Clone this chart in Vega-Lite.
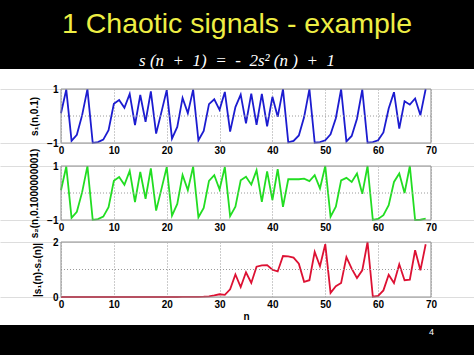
{
  "$schema": "https://vega.github.io/schema/vega-lite/v6.json",
  "background": "white",
  "padding": 0,
  "spacing": 0,
  "bounds": "flush",
  "datasets": {
    "sig": [
      {"n":0,"s1":0.1,"s2":0.1,"d":0},
      {"n":1,"s1":0.98,"s2":0.98,"d":0},
      {"n":2,"s1":-0.921,"s2":-0.921,"d":0},
      {"n":3,"s1":-0.696,"s2":-0.696,"d":0},
      {"n":4,"s1":0.032,"s2":0.032,"d":0},
      {"n":5,"s1":0.998,"s2":0.998,"d":0},
      {"n":6,"s1":-0.992,"s2":-0.992,"d":0},
      {"n":7,"s1":-0.968,"s2":-0.968,"d":0},
      {"n":8,"s1":-0.873,"s2":-0.873,"d":0},
      {"n":9,"s1":-0.523,"s2":-0.523,"d":0},
      {"n":10,"s1":0.453,"s2":0.453,"d":0},
      {"n":11,"s1":0.59,"s2":0.59,"d":0},
      {"n":12,"s1":0.303,"s2":0.303,"d":0},
      {"n":13,"s1":0.816,"s2":0.816,"d":0},
      {"n":14,"s1":-0.333,"s2":-0.333,"d":0},
      {"n":15,"s1":0.779,"s2":0.779,"d":0},
      {"n":16,"s1":-0.213,"s2":-0.213,"d":0},
      {"n":17,"s1":0.91,"s2":0.91,"d":0},
      {"n":18,"s1":-0.654,"s2":-0.654,"d":0},
      {"n":19,"s1":0.143,"s2":0.143,"d":0},
      {"n":20,"s1":0.959,"s2":0.959,"d":0},
      {"n":21,"s1":-0.839,"s2":-0.839,"d":0},
      {"n":22,"s1":-0.407,"s2":-0.407,"d":0},
      {"n":23,"s1":0.669,"s2":0.669,"d":0.001},
      {"n":24,"s1":0.105,"s2":0.105,"d":0.002},
      {"n":25,"s1":0.978,"s2":0.978,"d":0.003},
      {"n":26,"s1":-0.9,"s2":-0.9,"d":0.006},
      {"n":27,"s1":-0.55,"s2":-0.55,"d":0.012},
      {"n":28,"s1":0.44,"s2":0.45,"d":0.025},
      {"n":29,"s1":0.62,"s2":0.66,"d":0.06},
      {"n":30,"s1":0.23,"s2":0.13,"d":0.1},
      {"n":31,"s1":0.89,"s2":0.96,"d":0.08},
      {"n":32,"s1":-0.58,"s2":-0.86,"d":0.28},
      {"n":33,"s1":0.33,"s2":-0.51,"d":0.82},
      {"n":34,"s1":0.79,"s2":0.47,"d":0.36},
      {"n":35,"s1":-0.27,"s2":0.6,"d":0.9},
      {"n":36,"s1":0.83,"s2":0.31,"d":0.51},
      {"n":37,"s1":-0.33,"s2":0.84,"d":1.1},
      {"n":38,"s1":0.82,"s2":-0.33,"d":1.15},
      {"n":39,"s1":-0.38,"s2":0.8,"d":1.16},
      {"n":40,"s1":0.71,"s2":-0.26,"d":0.99},
      {"n":41,"s1":-0.03,"s2":0.88,"d":0.93},
      {"n":42,"s1":0.997,"s2":-0.51,"d":1.49},
      {"n":43,"s1":-0.98,"s2":0.51,"d":1.48},
      {"n":44,"s1":-0.925,"s2":0.51,"d":1.43},
      {"n":45,"s1":-0.72,"s2":0.51,"d":1.21},
      {"n":46,"s1":-0.04,"s2":0.53,"d":0.55},
      {"n":47,"s1":0.995,"s2":0.44,"d":0.61},
      {"n":48,"s1":-0.99,"s2":0.66,"d":1.64},
      {"n":49,"s1":-0.97,"s2":0.17,"d":1.12},
      {"n":50,"s1":-0.9,"s2":1.0,"d":1.92},
      {"n":51,"s1":-0.68,"s2":-0.88,"d":0.15},
      {"n":52,"s1":-0.08,"s2":-0.51,"d":0.39},
      {"n":53,"s1":0.99,"s2":0.47,"d":0.51},
      {"n":54,"s1":-0.94,"s2":0.56,"d":1.45},
      {"n":55,"s1":-0.74,"s2":0.41,"d":1.03},
      {"n":56,"s1":-0.1,"s2":0.72,"d":0.69},
      {"n":57,"s1":0.98,"s2":-0.03,"d":0.97},
      {"n":58,"s1":-0.99,"s2":1.0,"d":2.0},
      {"n":59,"s1":-0.97,"s2":-1.0,"d":0.01},
      {"n":60,"s1":-0.9,"s2":-0.96,"d":0.04},
      {"n":61,"s1":-0.61,"s2":-0.82,"d":0.24},
      {"n":62,"s1":0.28,"s2":-0.45,"d":0.81},
      {"n":63,"s1":0.88,"s2":0.41,"d":0.51},
      {"n":64,"s1":-0.47,"s2":0.72,"d":1.19},
      {"n":65,"s1":0.55,"s2":0.0,"d":0.61},
      {"n":66,"s1":0.42,"s2":1.0,"d":0.63},
      {"n":67,"s1":0.65,"s2":-1.0,"d":1.7},
      {"n":68,"s1":0.03,"s2":-0.99,"d":0.97},
      {"n":69,"s1":1.0,"s2":-0.95,"d":1.92}
    ]
  },
  "vconcat": [
    {
      "width": 474, "height": 69,
      "data": {"values": [{}]},
      "mark": {"type": "text"},
      "encoding": {"text": {"value": ""}},
      "view": {"fill": "black", "stroke": null},
      "title": {
        "text": "1 Chaotic signals - example",
        "subtitle": "s (n\u00a0\u00a0+\u00a0\u00a01)\u00a0\u00a0=\u00a0\u00a0-\u00a0\u00a02s² (n\u00a0)\u00a0\u00a0+\u00a0\u00a01",
        "font": "Liberation Sans", "fontSize": 28.5, "fontWeight": "normal", "color": "#eeee44",
        "subtitleFont": "Liberation Serif", "subtitleFontSize": 17, "subtitleFontStyle": "italic",
        "subtitleColor": "white", "subtitlePadding": 15,
        "anchor": "middle", "frame": "group", "offset": -69
      }
    },
    {"width": 474, "height": 20, "data": {"values": []}, "mark": "point", "encoding": {}},
    {
      "width": 474, "height": 54,
      "data": {"name": "sig"},
      "resolve": {"axis": {"x": "independent", "y": "independent"}},
      "layer": [
        {"mark": {"type": "line", "color": "#1c1cd0", "strokeWidth": 1.8},
         "encoding": {
           "x": {"field": "n", "type": "quantitative", "scale": {"domain": [-11.54, 78.14], "nice": false, "zero": false},
                 "axis": {"values": [0,10,20,30,40,50,60,70], "title": null, "grid": true, "gridDash": [1,2], "gridColor": "#999999", "labelPadding": 2}},
           "y": {"field": "s1", "type": "quantitative", "scale": {"domain": [-1, 1], "nice": false, "zero": false},
                 "axis": {"values": [-1,0,1], "format": "d", "offset": -61, "title": "s₁(n,0.1)", "labelPadding": 3, "titlePadding": 7}}}},
        {"data": {"values": [{}]},
         "mark": {"type": "rule", "color": "#999999", "strokeDash": [1, 2], "strokeWidth": 1},
         "encoding": {"x": {"datum": 0, "type": "quantitative", "axis": null}, "x2": {"datum": 70}, "y": {"datum": 0, "type": "quantitative", "axis": null}}},
        {"data": {"values": [{}]},
         "mark": {"type": "rect", "filled": false, "stroke": "#909090", "strokeWidth": 1},
         "encoding": {"x": {"datum": 0, "type": "quantitative", "axis": null}, "x2": {"datum": 70}, "y": {"datum": -1, "type": "quantitative", "axis": null}, "y2": {"datum": 1}}}
      ]
    },
    {"width": 474, "height": 23, "data": {"values": []}, "mark": "point", "encoding": {}},
    {
      "width": 474, "height": 54,
      "data": {"name": "sig"},
      "resolve": {"axis": {"x": "independent", "y": "independent"}},
      "layer": [
        {"mark": {"type": "line", "color": "#22dd22", "strokeWidth": 1.8},
         "encoding": {
           "x": {"field": "n", "type": "quantitative", "scale": {"domain": [-11.54, 78.14], "nice": false, "zero": false},
                 "axis": {"values": [0,10,20,30,40,50,60,70], "title": null, "grid": true, "gridDash": [1,2], "gridColor": "#999999", "labelPadding": 2}},
           "y": {"field": "s2", "type": "quantitative", "scale": {"domain": [-1, 1], "nice": false, "zero": false},
                 "axis": {"values": [-1,0,1], "format": "d", "offset": -61, "title": "s₂(n,0.1000000001)", "labelPadding": 3, "titlePadding": 7}}}},
        {"data": {"values": [{}]},
         "mark": {"type": "rule", "color": "#999999", "strokeDash": [1, 2], "strokeWidth": 1},
         "encoding": {"x": {"datum": 0, "type": "quantitative", "axis": null}, "x2": {"datum": 70}, "y": {"datum": 0, "type": "quantitative", "axis": null}}},
        {"data": {"values": [{}]},
         "mark": {"type": "rect", "filled": false, "stroke": "#909090", "strokeWidth": 1},
         "encoding": {"x": {"datum": 0, "type": "quantitative", "axis": null}, "x2": {"datum": 70}, "y": {"datum": -1, "type": "quantitative", "axis": null}, "y2": {"datum": 1}}}
      ]
    },
    {"width": 474, "height": 22, "data": {"values": []}, "mark": "point", "encoding": {}},
    {
      "width": 474, "height": 55,
      "data": {"name": "sig"},
      "resolve": {"axis": {"x": "independent", "y": "independent"}},
      "layer": [
        {"mark": {"type": "line", "color": "#dd1133", "strokeWidth": 1.8},
         "encoding": {
           "x": {"field": "n", "type": "quantitative", "scale": {"domain": [-11.54, 78.14], "nice": false, "zero": false},
                 "axis": {"values": [0,10,20,30,40,50,60,70], "title": "n", "titleX": 246, "titlePadding": 2, "titleFontSize": 10, "grid": true, "gridDash": [1,2], "gridColor": "#999999", "labelPadding": 2}},
           "y": {"field": "d", "type": "quantitative", "scale": {"domain": [0, 2], "nice": false, "zero": false},
                 "axis": {"values": [0,1,2], "format": "d", "offset": -61, "title": "|s₁(n)-s₂(n)|", "labelPadding": 3, "titlePadding": 10}}}},
        {"data": {"values": [{}]},
         "mark": {"type": "rule", "color": "#999999", "strokeDash": [1, 2], "strokeWidth": 1},
         "encoding": {"x": {"datum": 0, "type": "quantitative", "axis": null}, "x2": {"datum": 70}, "y": {"datum": 1, "type": "quantitative", "axis": null}}},
        {"data": {"values": [{}]},
         "mark": {"type": "rect", "filled": false, "stroke": "#909090", "strokeWidth": 1},
         "encoding": {"x": {"datum": 0, "type": "quantitative", "axis": null}, "x2": {"datum": 70}, "y": {"datum": 0, "type": "quantitative", "axis": null}, "y2": {"datum": 2}}}
      ]
    },
    {"width": 474, "height": 28, "data": {"values": []}, "mark": "point", "encoding": {}},
    {
      "width": 474, "height": 30,
      "data": {"values": [{}]},
      "mark": {"type": "text"},
      "encoding": {"text": {"value": ""}},
      "view": {"fill": "black", "stroke": null},
      "title": {"text": "4", "font": "Liberation Sans", "fontSize": 9, "fontWeight": "normal", "color": "white",
                "anchor": "end", "frame": "group", "dx": -40, "offset": -12}
    }
  ],
  "config": {
    "view": {"stroke": null},
    "font": "Liberation Sans",
    "axis": {
      "labelFont": "Liberation Sans", "labelFontWeight": "bold", "labelFontSize": 10, "labelColor": "black",
      "titleFont": "Liberation Sans", "titleFontWeight": "bold", "titleFontSize": 10, "titleColor": "black",
      "domain": false, "ticks": false, "labelFlush": false, "labelOverlap": false
    }
  }
}
